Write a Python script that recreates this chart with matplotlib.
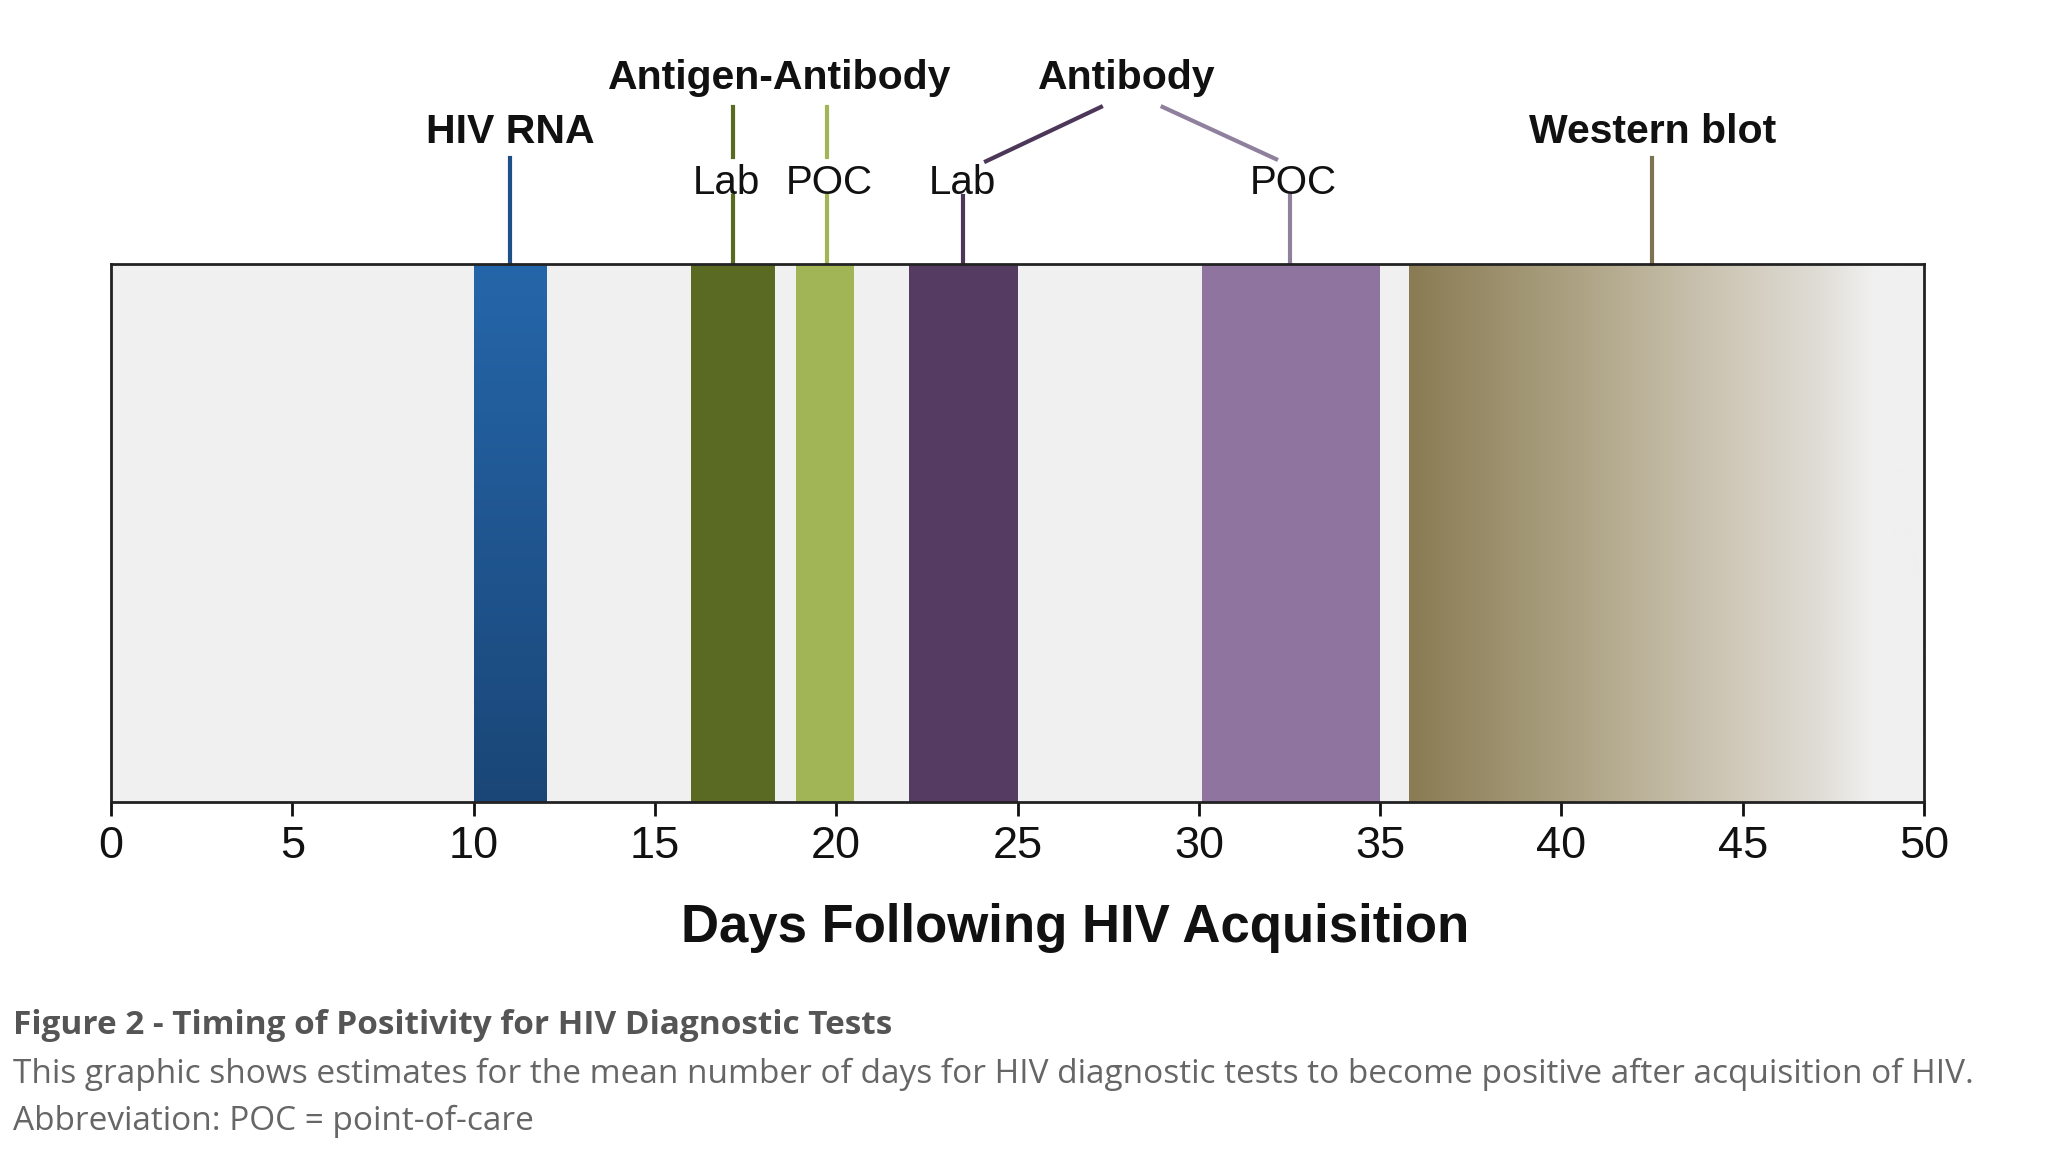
import numpy as np
import matplotlib.pyplot as plt
from matplotlib.colors import LinearSegmentedColormap
from matplotlib.transforms import blended_transform_factory

# band data (days following acquisition)
tests = ["HIV RNA", "AgAb Lab", "AgAb POC", "Ab Lab", "Ab POC", "Western blot"]
band_start = [10, 16, 18.9, 22, 30.1, 35.8]
band_end = [12, 18.3, 20.5, 25, 35, 50]
marker_day = [11, 17.15, 19.75, 23.5, 32.5, 42.5]
band_colors = ["#215f9e", "#5a6a22", "#a1b556", "#553a61", "#8f74a0", None]
line_colors = ["#1f4f88", "#5a6a22", "#a1b556", "#4c3758", "#8f809e", "#7d7352"]
sub_labels = ["Lab", "POC", "Lab", "POC"]
sub_days = [16.97, 19.81, 23.49, 32.6]
group_labels = ["HIV RNA", "Antigen-Antibody", "Antibody", "Western blot"]
group_days = [11, 18.45, 28.02, 42.5]
ticks = list(range(0, 51, 5))

plt.rcParams['font.family'] = ['Liberation Sans', 'DejaVu Sans']

fig = plt.figure(figsize=(20.48, 11.52), dpi=100)
ax = fig.add_axes([0.0542, 0.3038, 0.8853, 0.467])
ax.set_facecolor("#f0f0f0")
ax.set_xlim(0, 50)
ax.set_ylim(0, 1)

# solid bands
for i in range(1, 5):
    ax.axvspan(band_start[i], band_end[i], color=band_colors[i], lw=0)

# HIV RNA: vertical gradient
blue = LinearSegmentedColormap.from_list("blue", ["#1a4677", "#2566aa"])
grad_v = np.linspace(0, 1, 256).reshape(-1, 1)
ax.imshow(grad_v, cmap=blue, aspect="auto", origin="lower",
          extent=[band_start[0], band_end[0], 0, 1], zorder=2)

# Western blot: horizontal fade into background
wb = LinearSegmentedColormap.from_list(
    "wb", [(0, "#897c54"), (0.3, "#aa9f7f"), (0.55, "#c7bfab"),
           (0.8, "#e0ddd6"), (0.9, "#f0f0f0"), (1, "#f0f0f0")])
grad_h = np.linspace(0, 1, 512).reshape(1, -1)
ax.imshow(grad_h, cmap=wb, aspect="auto",
          extent=[band_start[5], band_end[5], 0, 1], zorder=2)

for s in ax.spines.values():
    s.set_linewidth(2)
    s.set_color("#222222")
    s.set_zorder(5)

ax.set_yticks([])
ax.set_xticks(ticks)
ax.tick_params(axis="x", length=10, width=2, labelsize=32.5, pad=7, colors="#111111")
ax.set_xlabel("Days Following HIV Acquisition", fontsize=38, fontweight="bold",
              color="#111111")
ax.xaxis.set_label_coords(0.532, -0.187)

# marker lines above the plot
tr = blended_transform_factory(ax.transData, ax.transAxes)
lw = 3
# HIV RNA and Western blot: single line
for i in [0, 5]:
    ax.plot([marker_day[i]] * 2, [1.0, 1.197], color=line_colors[i], lw=lw,
            transform=tr, clip_on=False)
# Antigen-Antibody: broken vertical lines
for i in [1, 2]:
    ax.plot([marker_day[i]] * 2, [1.0, 1.126], color=line_colors[i], lw=lw,
            transform=tr, clip_on=False)
    ax.plot([marker_day[i]] * 2, [1.199, 1.292], color=line_colors[i], lw=lw,
            transform=tr, clip_on=False)
# Antibody: short vertical plus diagonal
for i in [3, 4]:
    ax.plot([marker_day[i]] * 2, [1.0, 1.126], color=line_colors[i], lw=lw,
            transform=tr, clip_on=False)
ax.plot([24.13, 27.3], [1.191, 1.292], color=line_colors[3], lw=lw,
        transform=tr, clip_on=False)
ax.plot([29.0, 32.13], [1.292, 1.195], color=line_colors[4], lw=lw,
        transform=tr, clip_on=False)

for lab, d in zip(sub_labels, sub_days):
    ax.text(d, 1.151, lab, transform=tr, ha="center", va="center",
            fontsize=29, color="#111111")

group_y = [1.246, 1.345, 1.345, 1.246]
for lab, d, y in zip(group_labels, group_days, group_y):
    ax.text(d, y, lab, transform=tr, ha="center", va="center",
            fontsize=29.5, fontweight="bold", color="#111111")

# caption
cap = ['Open Sans', 'DejaVu Sans']
fig.text(0.0065, 1 - 1026 / 1152, "Figure 2 - Timing of Positivity for HIV Diagnostic Tests",
         fontsize=24, fontweight="bold", color="#555555", va="center", family=cap)
fig.text(0.0065, 1 - 1074 / 1152,
         "This graphic shows estimates for the mean number of days for HIV diagnostic tests "
         "to become positive after acquisition of HIV.",
         fontsize=24, color="#666666", va="center", family=cap)
fig.text(0.0065, 1 - 1121 / 1152, "Abbreviation: POC = point-of-care",
         fontsize=24, color="#666666", va="center", family=cap)

fig.savefig("out.png", dpi=100, facecolor="white")
